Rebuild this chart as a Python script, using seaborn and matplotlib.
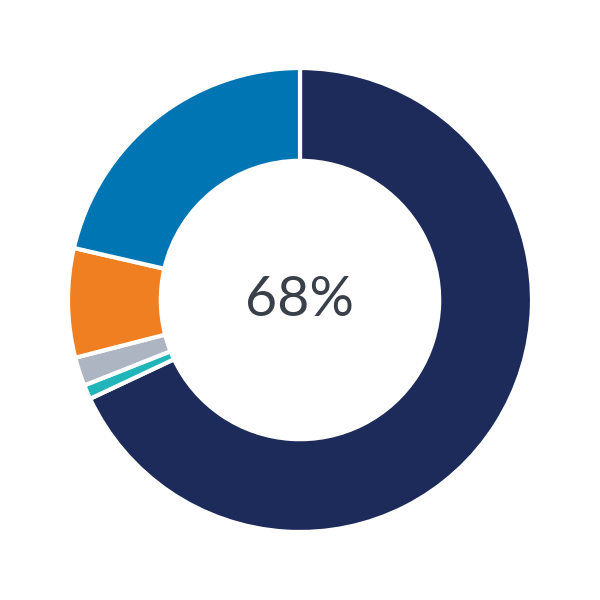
import matplotlib
matplotlib.use("Agg")
import matplotlib.pyplot as plt
import seaborn as sns

categories = ["Navy", "Teal", "Grey", "Orange", "Blue"]
values = [68, 1, 2, 7.6, 21.4]
colors = ["#1c2b5a", "#20b5b8", "#adb5c2", "#f07f21", "#0075b4"]
center_label = "68%"

sns.set_theme(style="white")
plt.rcParams['font.family'] = ['Lato', 'DejaVu Sans']

fig = plt.figure(figsize=(6, 6), dpi=100)
ax = fig.add_axes([0, 0, 1, 1])
ax.pie(values, colors=sns.color_palette(colors), startangle=90, counterclock=False,
       radius=1.0, wedgeprops=dict(width=0.4, edgecolor="white", linewidth=3))
lim = 300 / 232
ax.set_xlim(-lim, lim)
ax.set_ylim(-lim, lim)
ax.set_aspect("equal")
ax.axis("off")
ax.text(0, 0, center_label, ha="center", va="center", fontsize=40,
        fontweight="normal", color="#3a4049")
fig.savefig("out.png", dpi=100, facecolor="white")
